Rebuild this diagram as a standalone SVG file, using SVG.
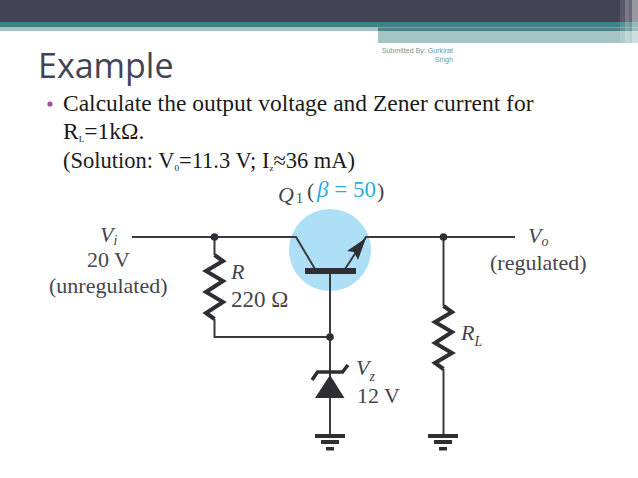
<svg xmlns="http://www.w3.org/2000/svg" width="638" height="478" viewBox="0 0 638 478">
<style>
.w{fill:none;stroke:#3a3a40;stroke-width:2}
.z{fill:none;stroke:#2e2e34;stroke-width:4;stroke-linejoin:miter}
.d{fill:#2e2e34}
.c{font-family:"Liberation Serif",serif;fill:#45454c;font-size:22px}
.i{font-style:italic}
.si{font-size:14px;font-style:italic}
.b{font-family:"Liberation Serif",serif;fill:#1a1a1a;font-size:23.500px}
.sub{font-size:9px}
.hd{font-family:"Liberation Sans",sans-serif;font-size:7.100px;fill:#6d9a9e}
</style>
<rect width="638" height="478" fill="#fff"/>
<g id="banner">
<rect x="0" y="0" width="638" height="22" fill="#424455"/>
<rect x="0" y="22" width="638" height="5.500" fill="#3f8286"/>
<rect x="0" y="27.500" width="378" height="3.500" fill="#a6c4c6"/>
<rect x="378" y="27.500" width="260" height="3.500" fill="#48868a"/>
<rect x="378" y="31" width="260" height="12" fill="#a5c4c6"/>
<g fill="#fff">
<rect x="620" y="0" width="5" height="43" opacity=".12"/>
<rect x="625" y="0" width="4" height="43" opacity=".3"/>
<rect x="629" y="0" width="3" height="43" opacity=".2"/>
<rect x="632" y="0" width="6" height="43" opacity=".45"/>
</g>
</g>
<g id="header">
<text x="38" y="78" font-family="Open Sans, 'Noto Sans', sans-serif" font-size="34" fill="#434358">Example</text>
<text class="hd" x="453" y="52.500" text-anchor="end">Submitted By: Gurkirat</text>
<text class="hd" x="453" y="62" text-anchor="end">Singh</text>
</g>
<g id="body">
<circle cx="50" cy="104" r="2.600" fill="#a24ea2"/>
<text class="b" x="63" y="111">Calculate the output voltage and Zener current for</text>
<text class="b" x="63" y="139">R<tspan class="sub" dy="3">L</tspan><tspan dy="-3">=1kΩ.</tspan></text>
<text class="b" x="63" y="168" style="font-size:22.500px">(Solution: V<tspan class="sub" dy="3">0</tspan><tspan dy="-3">=11.3 V; I</tspan><tspan class="sub" dy="3">z</tspan><tspan dy="-3">≈36 mA)</tspan></text>
</g>
<circle id="highlight" cx="330" cy="250" r="41" fill="#ade0f6"/>
<g id="connectors">
<path class="w" d="M132 237H296L315 269"/>
<path class="w" d="M345 269L366 237H515"/>
<path class="w" d="M214.500 237V255M214.500 319V337H330"/>
<path class="w" d="M330 270V435"/>
<path class="w" d="M443.500 237V306M443.500 369V435"/>
</g>
<g id="q1">
<rect x="305" y="268" width="51" height="6" class="d"/>
<path class="d" d="M366 238L358 260L354 252L347 251Z"/>
<circle cx="214.500" cy="237" r="3.800" class="d"/>
<circle cx="443.500" cy="237" r="3.800" class="d"/>
<circle cx="330" cy="337" r="3.800" class="d"/>
</g>
<g id="r">
<path class="z" d="M214.500 255L223 261L206 271L223 281L206 292L223 302L206 313L214.500 319"/>
</g>
<g id="rl">
<path class="z" d="M443.500 306L452 312L435 322L452 332L435 343L452 353L435 363L443.500 369"/>
</g>
<g id="zener">
<path class="d" d="M330 375L344.500 398H315Z"/>
<path fill="none" stroke="#2e2e34" stroke-width="3.500" d="M312 380L317.500 372H342.500L348 365"/>
</g>
<g id="ground1" class="d">
<rect x="315" y="434" width="30" height="4"/>
<rect x="321" y="440" width="18" height="4"/>
<rect x="326" y="447" width="8" height="3.500"/>
</g>
<g id="ground2" class="d">
<rect x="428" y="434" width="30" height="4"/>
<rect x="434" y="440" width="18" height="4"/>
<rect x="439" y="447" width="8" height="3.500"/>
</g>
<g id="labels">
<text class="c i" x="100" y="242">V<tspan class="si" dy="3">i</tspan></text>
<text class="c" x="87" y="267">20 V</text>
<text class="c" x="49" y="293">(unregulated)</text>
<text class="c i" x="231" y="279">R</text>
<text class="c" x="231" y="307" style="font-size:23px">220 Ω</text>
<text class="c i" x="278" y="202">Q<tspan dx="2" dy="1" style="font-size:14px;font-style:normal">1</tspan></text>
<text class="c" x="307" y="198">(</text>
<text x="317" y="197" font-family="Liberation Serif,serif" font-size="23" fill="#2aaee0"><tspan font-style="italic">β</tspan> = 50</text>
<text class="c" x="377" y="198">)</text>
<text class="c i" x="528" y="243">V<tspan class="si" dy="3">o</tspan></text>
<text class="c" x="490" y="270">(regulated)</text>
<text class="c i" x="461" y="340">R<tspan class="si" dy="6">L</tspan></text>
<text class="c i" x="356" y="375">V<tspan class="si" dy="6">z</tspan></text>
<text class="c" x="357" y="403">12 V</text>
</g>
</svg>
